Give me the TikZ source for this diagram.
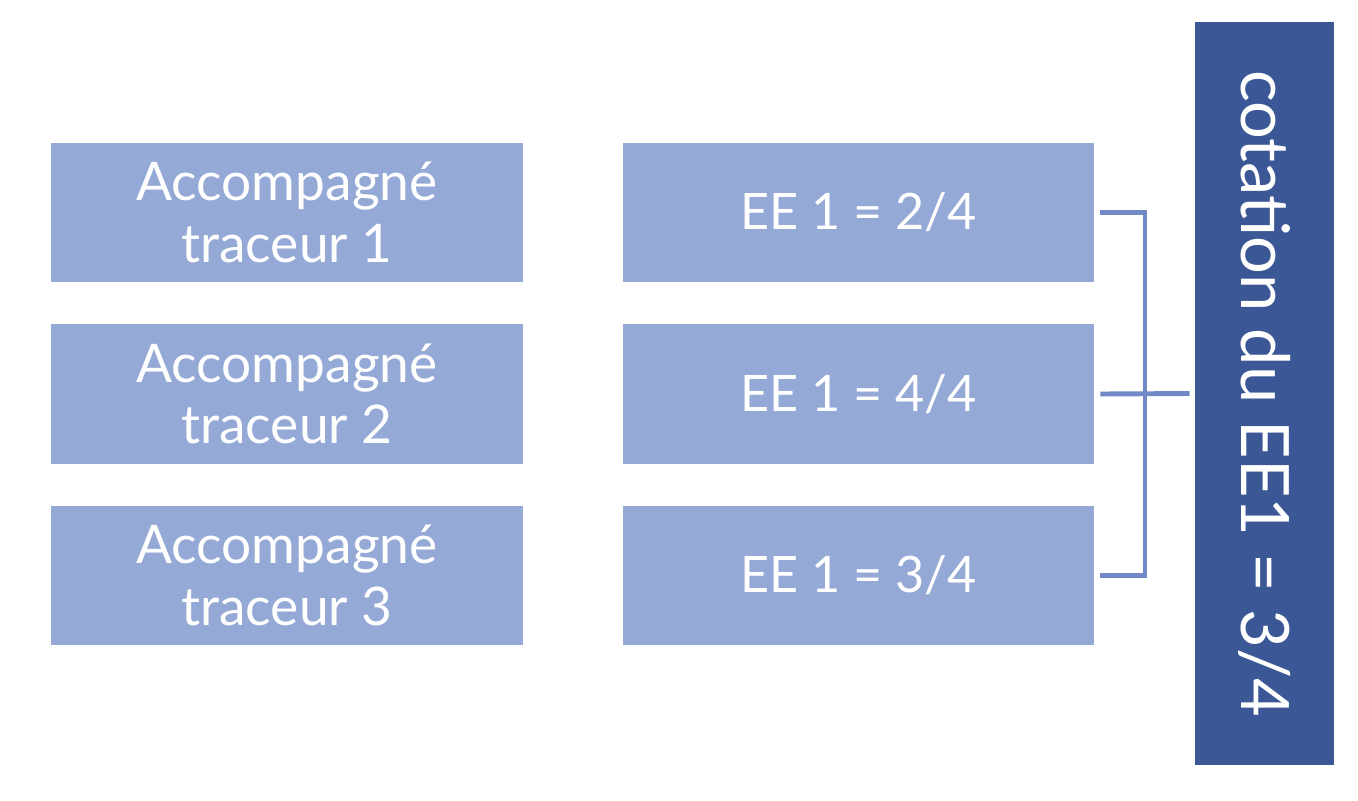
\documentclass[tikz,border=0pt]{standalone}
\usepackage{fontspec}
\setmainfont{Lato}
\usetikzlibrary{positioning}
\definecolor{boxlight}{RGB}{149,169,215}
\definecolor{boxdark}{RGB}{60,87,150}
\definecolor{linkblue}{RGB}{113,137,198}

\begin{document}
\begin{tikzpicture}
[
    x=0.2mm, y=-0.2mm,
    % Boxes are named L-row (left column), E-row (middle column), R (result)
]

%=================================== Start ===================================
\tikzstyle{box}  = [fill=boxlight, text=white, align=center, inner sep=0pt,
                    minimum width=9.42cm, minimum height=2.79cm,
                    font=\fontsize{29}{35}\selectfont]
\tikzstyle{res}  = [fill=boxdark, text=white, inner sep=0pt, rotate=-90,
                    minimum width=14.86cm, minimum height=2.78cm,
                    font=\fontsize{38}{45}\selectfont]
\tikzstyle{link} = [draw=linkblue, line width=2.8pt]

\useasboundingbox (0,0) rectangle (1358,800);

% Draw left column
\foreach \y / \i in {212.5/1, 394/2, 575.5/3}
    \node[box, font=\fontsize{30.3}{35}\selectfont]
          (L-\i) at (287,\y) {Accompagné\\traceur \i};
% Draw middle column
\foreach \y / \i / \v in {212.5/1/2, 394/2/4, 575.5/3/3}
    \node[box, font=\fontsize{28.6}{35}\selectfont]
          (E-\i) at (858.5,\y) {EE 1 = \v/4};
% Draw result
\node[res] (R) at (1264.5,393.5) {cotation du EE1 = 3/4};

% Connect nodes
\coordinate (J) at (1145,394);
\foreach \i in {1,3}
    \draw[link] ([xshift=0.12cm]E-\i.east) -| (J);
\draw[link] ([xshift=0.12cm]E-2.east) -- ([xshift=-0.1cm]R.south);
%==================================== END ====================================

\end{tikzpicture}
\end{document}
